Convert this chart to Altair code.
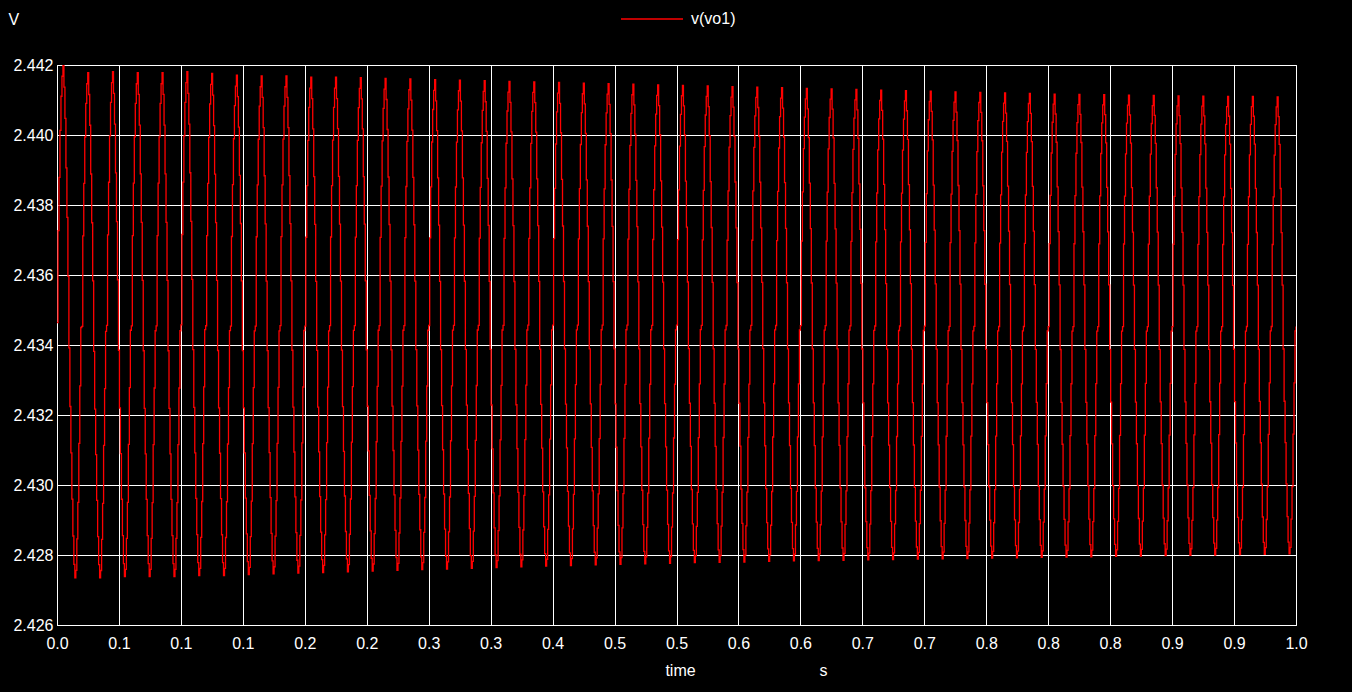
import altair as alt
import pandas as pd

# ---------------- data ----------------
SERIES = "v(vo1)"

X_TICKS = [0.0, 0.05, 0.1, 0.15, 0.2, 0.25, 0.3, 0.35, 0.4, 0.45, 0.5,
           0.55, 0.6, 0.65, 0.7, 0.75, 0.8, 0.85, 0.9, 0.95, 1.0]
X_LABELS = ["0.0", "0.1", "0.1", "0.1", "0.2", "0.2", "0.3", "0.3", "0.4", "0.5", "0.5",
            "0.6", "0.6", "0.7", "0.7", "0.8", "0.8", "0.8", "0.9", "0.9", "1.0"]
Y_TICKS = [2.426, 2.428, 2.430, 2.432, 2.434, 2.436, 2.438, 2.440, 2.442]

# one 20 ms cycle of the stepped waveform, read sample by sample (V)
PROFILE = [2.43463, 2.43725, 2.43877, 2.44011, 2.44108, 2.44165, 2.44197, 2.44134,
           2.44045, 2.43904, 2.43763, 2.43595, 2.43391, 2.43224, 2.43092, 2.42960,
           2.42855, 2.42774, 2.42736, 2.42757, 2.42847, 2.42951, 2.43119, 2.43283,
           2.43449]

# top and bottom of each of the 50 cycles (V)
PEAKS = [2.44200, 2.44178, 2.44181, 2.44178, 2.44178, 2.44181, 2.44176, 2.44171, 2.44169, 2.44169,
         2.44165, 2.44165, 2.44164, 2.44162, 2.44160, 2.44158, 2.44157, 2.44155, 2.44153, 2.44152,
         2.44150, 2.44148, 2.44147, 2.44145, 2.44143, 2.44142, 2.44140, 2.44138, 2.44137, 2.44135,
         2.44133, 2.44132, 2.44130, 2.44128, 2.44127, 2.44125, 2.44123, 2.44122, 2.44120, 2.44119,
         2.44117, 2.44116, 2.44115, 2.44114, 2.44113, 2.44112, 2.44111, 2.44110, 2.44110, 2.44109]
TROUGHS = [2.42735, 2.42735, 2.42738, 2.42738, 2.42738, 2.42741, 2.42741, 2.42744, 2.42746, 2.42748,
           2.42750, 2.42752, 2.42754, 2.42756, 2.42758, 2.42760, 2.42762, 2.42764, 2.42766, 2.42768,
           2.42770, 2.42772, 2.42773, 2.42775, 2.42776, 2.42778, 2.42779, 2.42780, 2.42782, 2.42783,
           2.42784, 2.42785, 2.42786, 2.42787, 2.42788, 2.42789, 2.42790, 2.42791, 2.42792, 2.42793,
           2.42794, 2.42795, 2.42796, 2.42797, 2.42798, 2.42799, 2.42800, 2.42801, 2.42802, 2.42803]

PERIOD = 0.02      # s
SAMPLE_DT = 0.0008  # s

# ---------------- build table ----------------
pmin, pmax = min(PROFILE), max(PROFILE)
rows = []
for c, (hi, lo) in enumerate(zip(PEAKS, TROUGHS)):
    for j, p in enumerate(PROFILE):
        frac = (p - pmin) / (pmax - pmin)
        rows.append({"time": c * PERIOD + j * SAMPLE_DT, "volt": lo + frac * (hi - lo), "series": SERIES})
frac0 = (PROFILE[0] - pmin) / (pmax - pmin)
rows.append({"time": 1.0, "volt": TROUGHS[-1] + frac0 * (PEAKS[-1] - TROUGHS[-1]), "series": SERIES})
df = pd.DataFrame(rows)

FONT = "Liberation Sans"
FG = "#ffffff"
label_expr = "[" + ",".join("'%s'" % s for s in X_LABELS) + "][round(datum.value*20)]"

x_scale = alt.Scale(domain=[0, 1], nice=False, zero=False)
y_scale = alt.Scale(domain=[2.426, 2.442], nice=False, zero=False)

line = alt.Chart(df).mark_line(interpolate="step-after", strokeWidth=1.3, clip=True).encode(
    x=alt.X("time:Q", scale=x_scale,
            axis=alt.Axis(values=X_TICKS, labelExpr=label_expr, title="time",
                          titleX=623, titleY=45, titleAlign="center", titleBaseline="middle",
                          titleColor=FG, titleFont=FONT, titleFontSize=16, titleFontWeight="normal",
                          labelColor=FG, labelFont=FONT, labelFontSize=16, labelPadding=10,
                          labelFlush=False, labelOverlap=False,
                          ticks=False, domainColor=FG, domainWidth=1,
                          grid=True, gridColor=FG, gridWidth=1, gridOpacity=1)),
    y=alt.Y("volt:Q", scale=y_scale,
            axis=alt.Axis(values=Y_TICKS, format=".3f", title="V", titleAngle=0,
                          titleAlign="left", titleBaseline="middle", titleX=-49, titleY=-46,
                          titleColor=FG, titleFont=FONT, titleFontSize=16, titleFontWeight="normal",
                          labelColor=FG, labelFont=FONT, labelFontSize=16, labelPadding=4,
                          labelFlush=False, labelOverlap=False,
                          ticks=False, domainColor=FG, domainWidth=1,
                          grid=True, gridColor=FG, gridWidth=1, gridOpacity=1)),
    color=alt.Color("series:N", scale=alt.Scale(domain=[SERIES], range=["#ff0000"]),
                    legend=alt.Legend(orient="none", legendX=563, legendY=-78, title=None,
                                      symbolType="stroke", symbolSize=3844, symbolStrokeWidth=1.5,
                                      labelColor=FG, labelFont=FONT, labelFontSize=16,
                                      labelOffset=7, padding=0)),
)

unit_axis = alt.Chart(df).mark_point(opacity=0, size=0).encode(
    x=alt.X("time:Q", scale=x_scale,
            axis=alt.Axis(orient="bottom", title="s", labels=False, ticks=False, domain=False, grid=False,
                          titleX=766, titleY=45, titleAlign="center", titleBaseline="middle",
                          titleColor=FG, titleFont=FONT, titleFontSize=16, titleFontWeight="normal")),
    y=alt.Y("volt:Q", scale=y_scale),
)

chart = alt.layer(line, unit_axis).resolve_axis(x="independent").properties(
    width=1239, height=560,
    autosize=alt.AutoSizeParams(type="none"),
    padding={"left": 49, "top": 57, "right": 40, "bottom": 52},
    background="#000000",
).configure_view(stroke=FG, strokeWidth=1)

try:
    import jinja2
    PAGE = jinja2.Template("""<!DOCTYPE html>
<html>
<head>
<style>
html, body { background: #000000; }
#{{ output_div }}.vega-embed { width: 100%; display: flex; }
</style>
<script type="text/javascript" src="{{ base_url }}/vega@{{ vega_version }}"></script>
<script type="text/javascript" src="{{ base_url }}/vega-lite@{{ vegalite_version }}"></script>
<script type="text/javascript" src="{{ base_url }}/vega-embed@{{ vegaembed_version }}"></script>
</head>
<body>
<div id="{{ output_div }}"></div>
<script>
(function(vegaEmbed) {
  var spec = {{ spec }};
  var embedOpt = {{ embed_options }};
  vegaEmbed("#{{ output_div }}", spec, embedOpt);
})(vegaEmbed);
</script>
</body>
</html>
""")
    chart.save("out.html", embed_options={"renderer": "svg", "actions": False}, template=PAGE)
except Exception:
    chart.save("out.html", embed_options={"renderer": "svg", "actions": False})
